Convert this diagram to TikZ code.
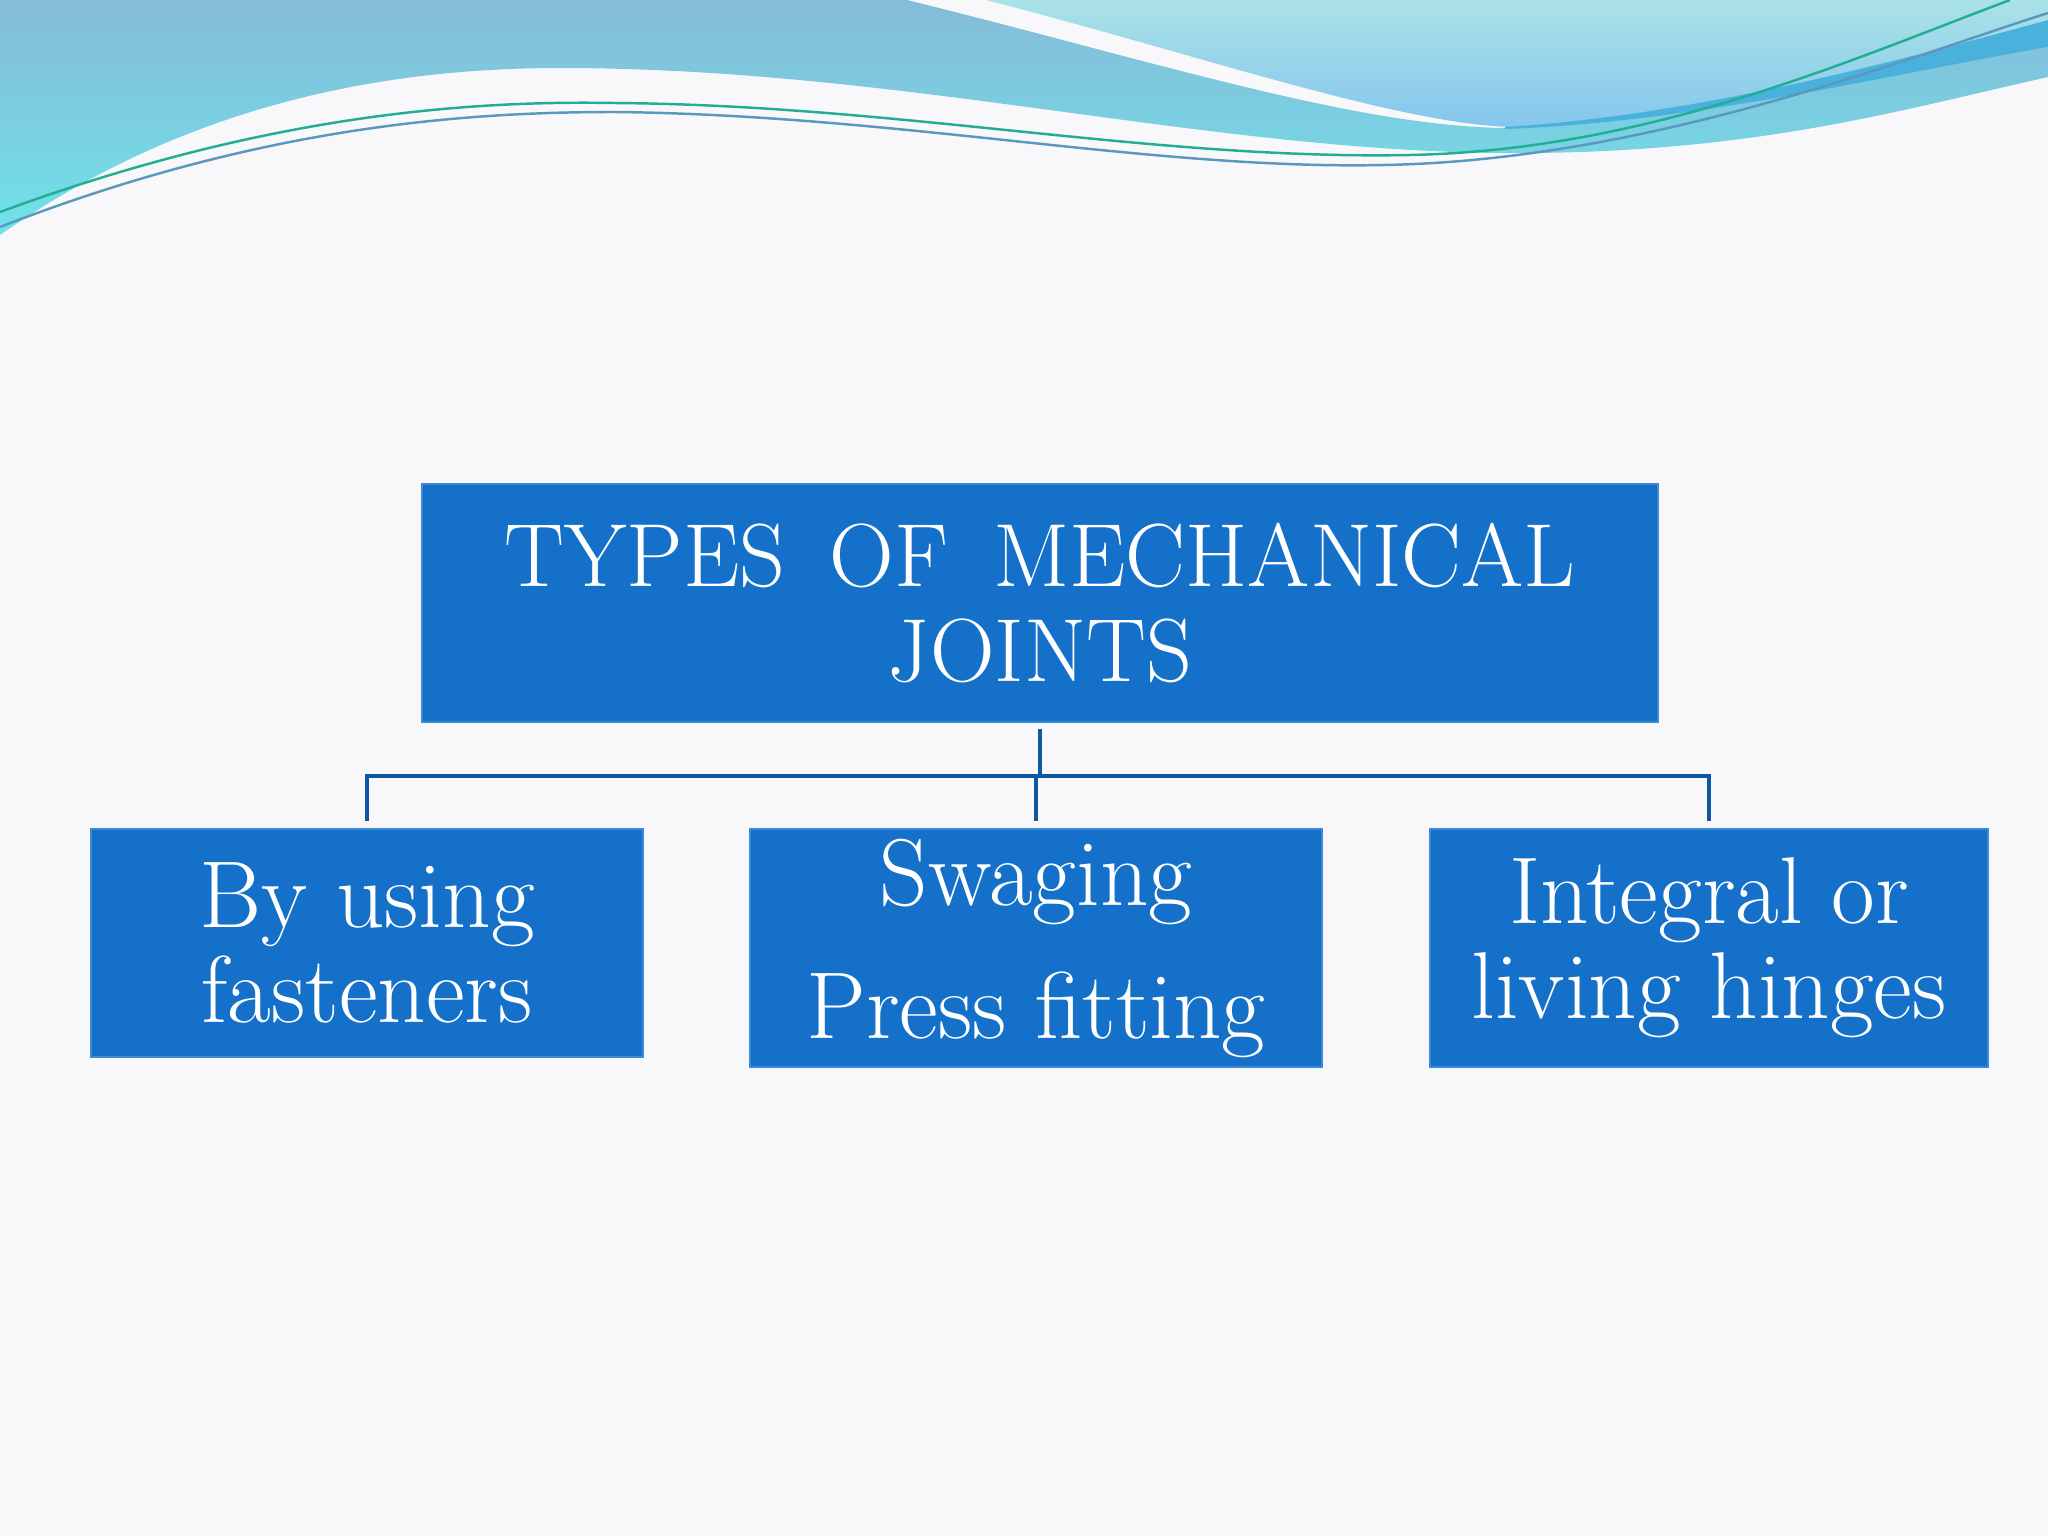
\documentclass[tikz,border=0pt]{standalone}
\usetikzlibrary{positioning}

\definecolor{paper}{HTML}{F8F8FA}
\definecolor{boxblue}{HTML}{1470C8}
\definecolor{boxedge}{HTML}{3A8CDA}
\definecolor{linkblue}{HTML}{0E57A2}
\definecolor{wavetop}{HTML}{86BBD8}
\definecolor{wavebot}{HTML}{6FE2EA}
\definecolor{lighttop}{HTML}{AAE2E6}
\definecolor{lightbot}{HTML}{86C6EE}
\definecolor{darkband}{HTML}{4AB0DC}
\definecolor{threadA}{HTML}{22AE92}
\definecolor{threadB}{HTML}{5A98C0}

\tikzset{
  joint/.style={fill=boxblue, draw=boxedge, line width=0.6pt, text=white,
    align=center, inner sep=0pt, font=\fontsize{27}{27}\selectfont},
  link/.style={draw=linkblue, line width=1.2pt},
  thread/.style={line width=0.7pt},
}

\begin{document}
\begin{tikzpicture}[x=0.01cm, y=-0.01cm]

\def\xtop{1040}; % top box
\def\ytop{603};
\def\ylow{948}; % lower row
\def\yhub{776}; % bar

\useasboundingbox (0,0) rectangle (2048,1536);
\fill[paper] (0,0) rectangle (2048,1536);

% header waves
\shade[top color=wavetop, bottom color=wavebot]
  (0,0) -- (907,0) .. controls (1150,60) and (1350,125) .. (1502,128)
  .. controls (1700,118) and (1900,70) .. (2048,47) -- (2048,77)
  .. controls (1900,110) and (1750,155) .. (1500,153)
  .. controls (1200,150) and (900,68) .. (560,68)
  .. controls (330,68) and (150,130) .. (0,235) -- cycle;
\shade[top color=lighttop, bottom color=lightbot]
  (986,0) .. controls (1200,55) and (1400,125) .. (1514,127)
  .. controls (1700,115) and (1900,60) .. (2048,20) -- (2048,0) -- cycle;
\fill[darkband]
  (1505,127) .. controls (1700,115) and (1900,60) .. (2048,20) -- (2048,47)
  .. controls (1900,72) and (1700,122) .. (1505,129) -- cycle;
\draw[thread, threadA] (0,212) .. controls (250,120) and (450,100) .. (614,103)
  .. controls (900,105) and (1150,160) .. (1410,155)
  .. controls (1650,150) and (1850,60) .. (2010,0);
\draw[thread, threadB] (0,227) .. controls (250,130) and (450,112) .. (614,112)
  .. controls (900,115) and (1150,170) .. (1384,165)
  .. controls (1650,160) and (1900,60) .. (2048,13);

% boxes
\node[joint, minimum width=12.36cm, minimum height=2.37cm,
  font=\fontsize{25.5}{27}\selectfont] (types) at (\xtop,\ytop)
  {TYPES\hspace{0.5em}OF\hspace{0.5em}MECHANICAL\\JOINTS};
\node[joint, minimum width=5.52cm, minimum height=2.28cm] (fasten) at (367,943)
  {By using\\fasteners};
\node[joint, minimum width=5.71cm, minimum height=2.38cm] (swage) at (1036,\ylow)
  {Swaging\\[0.38cm]Press fitting};
\node[joint, minimum width=5.58cm, minimum height=2.38cm] (hinge) at (1709,\ylow)
  {Integral or\\living hinges};

% tree lines
\coordinate (hub) at (\xtop,\yhub);
\draw[link, shorten <=0.06cm] (types.south) -- (hub);
\draw[link, shorten >=0.07cm] (hub) -| (fasten.north);
\draw[link, shorten >=0.07cm] (hub) -| (swage.north);
\draw[link, shorten >=0.07cm] (hub) -| (hinge.north);

\end{tikzpicture}
\end{document}
